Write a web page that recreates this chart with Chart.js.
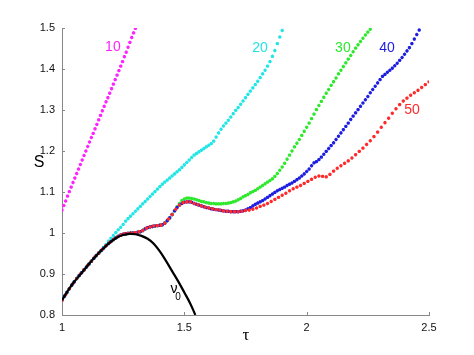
<!DOCTYPE html>
<html>
<head>
<meta charset="utf-8">
<script src="https://cdn.jsdelivr.net/npm/chart.js@4.4.1/dist/chart.umd.min.js"></script>
<style>
html,body{margin:0;padding:0;background:#fff;}
#wrap{width:474px;height:355px;}
</style>
</head>
<body>
<div id="wrap"><canvas id="c" width="474" height="355"></canvas></div>
<script>
// shared tau grid (step 0.01)
const tau = [1.00,1.01,1.02,1.03,1.04,1.05,1.06,1.07,1.08,1.09,1.10,1.11,1.12,1.13,1.14,1.15,1.16,1.17,1.18,1.19,
1.20,1.21,1.22,1.23,1.24,1.25,1.26,1.27,1.28,1.29,1.30,1.31,1.32,1.33,1.34,1.35,1.36,1.37,1.38,1.39,
1.40,1.41,1.42,1.43,1.44,1.45,1.46,1.47,1.48,1.49,1.50,1.51,1.52,1.53,1.54,1.55,1.56,1.57,1.58,1.59,
1.60,1.61,1.62,1.63,1.64,1.65,1.66,1.67,1.68,1.69,1.70,1.71,1.72,1.73,1.74,1.75,1.76,1.77,1.78,1.79,
1.80,1.81,1.82,1.83,1.84,1.85,1.86,1.87,1.88,1.89,1.90,1.91,1.92,1.93,1.94,1.95,1.96,1.97,1.98,1.99,
2.00,2.01,2.02,2.03,2.04,2.05,2.06,2.07,2.08,2.09,2.10,2.11,2.12,2.13,2.14,2.15,2.16,2.17,2.18,2.19,
2.20,2.21,2.22,2.23,2.24,2.25,2.26,2.27,2.28,2.29,2.30,2.31,2.32,2.33,2.34,2.35,2.36,2.37,2.38,2.39,
2.40,2.41,2.42,2.43,2.44,2.45,2.46,2.47,2.48,2.49,2.50];

// common trunk S(tau) for 20/30/40, tau = 1.00 .. 1.76
const trunkS = [0.836,0.846,0.855,0.864,0.873,0.881,0.889,0.896,0.903,0.910,
0.917,0.924,0.931,0.938,0.945,0.951,0.957,0.963,0.969,0.974,
0.979,0.984,0.988,0.992,0.995,0.997,0.998,0.999,1.000,1.000,
1.001,1.002,1.003,1.006,1.010,1.013,1.015,1.016,1.017,1.018,
1.019,1.020,1.024,1.030,1.037,1.045,1.054,1.062,1.068,1.072,
1.075,1.076,1.076,1.075,1.072,1.070,1.068,1.066,1.064,1.062,
1.061,1.059,1.058,1.057,1.056,1.055,1.054,1.053,1.053,1.052,
1.052,1.052,1.052,1.053,1.054,1.056,1.059];

// N = 20 after leaving trunk, tau = 1.17 .. 1.90
const tail20 = [0.965,0.972,0.980,0.987,0.994,1.001,1.008,1.014,1.021,1.029,
1.035,1.041,1.047,1.053,1.059,1.065,1.071,1.077,1.083,1.089,
1.095,1.101,1.107,1.113,1.119,1.124,1.129,1.134,1.139,1.144,
1.149,1.154,1.160,1.166,1.172,1.178,1.184,1.190,1.194,1.198,
1.202,1.206,1.210,1.214,1.218,1.224,1.234,1.244,1.253,1.261,
1.268,1.275,1.283,1.291,1.299,1.306,1.314,1.322,1.330,1.338,
1.346,1.354,1.362,1.370,1.379,1.388,1.397,1.407,1.418,1.431,
1.445,1.462,1.478,1.494];

// N = 30 after leaving trunk, tau = 1.47 .. 2.26
const tail30 = [1.064,1.072,1.079,1.083,1.085,1.085,1.084,1.083,1.081,1.079,
1.077,1.076,1.074,1.073,1.072,1.072,1.071,1.071,1.071,1.072,
1.072,1.073,1.074,1.076,1.078,1.081,1.084,1.088,1.091,1.094,
1.098,1.101,1.104,1.108,1.112,1.116,1.120,1.124,1.128,1.132,
1.138,1.145,1.153,1.161,1.170,1.180,1.190,1.200,1.210,1.219,
1.228,1.238,1.248,1.258,1.268,1.279,1.290,1.301,1.311,1.321,
1.331,1.341,1.350,1.360,1.369,1.378,1.388,1.397,1.406,1.415,
1.424,1.433,1.442,1.451,1.459,1.467,1.475,1.483,1.490,1.497];

// N = 40 after leaving trunk, tau = 1.77 .. 2.46
const tail40 = [1.062,1.066,1.070,1.073,1.076,1.079,1.083,1.087,1.091,1.095,
1.099,1.103,1.106,1.109,1.112,1.116,1.119,1.122,1.126,1.130,
1.134,1.139,1.144,1.150,1.156,1.164,1.171,1.174,1.179,1.185,
1.192,1.199,1.206,1.213,1.220,1.228,1.236,1.244,1.252,1.260,
1.268,1.277,1.285,1.293,1.301,1.309,1.317,1.325,1.333,1.342,
1.350,1.358,1.366,1.374,1.382,1.387,1.392,1.397,1.402,1.408,
1.414,1.421,1.428,1.436,1.444,1.452,1.462,1.473,1.484,1.495];

// N = 50 (own tau grid)
const tau50 = [1.000,1.015,1.030,1.045,1.060,1.075,1.090,1.105,1.120,1.135,1.150,1.165,1.180,1.195,1.210,1.225,1.240,1.255,1.270,1.285,
1.300,1.315,1.330,1.345,1.360,1.375,1.390,1.405,1.420,1.435,1.450,1.465,1.480,1.495,1.510,1.525,1.540,1.555,1.570,1.585,
1.600,1.615,1.630,1.645,1.660,1.675,1.690,1.705,1.720,1.735,1.750,1.765,1.780,1.795,1.810,1.825,1.840,1.855,1.870,1.885,
1.900,1.915,1.930,1.945,1.960,1.975,1.990,2.005,2.020,2.035,2.050,2.065,2.080,2.095,2.110,2.125,2.140,2.155,2.170,2.185,
2.200,2.215,2.230,2.245,2.260,2.275,2.290,2.305,2.320,2.335,2.350,2.365,2.380,2.395,2.410,2.425,2.440,2.455,2.470,2.485,2.500];
const S50 = [0.836,0.850,0.864,0.877,0.889,0.900,0.910,0.921,0.931,0.942,0.951,0.960,0.969,0.977,0.984,0.990,0.995,0.998,0.999,1.000,
1.001,1.003,1.006,1.012,1.015,1.017,1.018,1.019,1.024,1.034,1.045,1.058,1.068,1.074,1.076,1.076,1.072,1.069,1.066,1.063,
1.061,1.059,1.057,1.056,1.054,1.053,1.052,1.052,1.052,1.053,1.055,1.056,1.058,1.061,1.065,1.068,1.072,1.077,1.082,1.087,
1.092,1.097,1.103,1.108,1.112,1.116,1.121,1.126,1.131,1.136,1.139,1.138,1.137,1.143,1.151,1.158,1.164,1.170,1.176,1.183,
1.191,1.199,1.207,1.216,1.225,1.235,1.246,1.258,1.269,1.280,1.292,1.303,1.313,1.322,1.329,1.336,1.342,1.348,1.355,1.362,1.369];

// N = 10 (own tau grid)
const tau10 = [1.0000,1.0075,1.0150,1.0225,1.0300,1.0375,1.0450,1.0525,1.0600,1.0675,1.0750,1.0825,1.0900,1.0975,
1.1050,1.1125,1.1200,1.1275,1.1350,1.1425,1.1500,1.1575,1.1650,1.1725,1.1800,1.1875,1.1950,1.2025,1.2100,1.2175,
1.2250,1.2325,1.2400,1.2475,1.2550,1.2625,1.2700,1.2775,1.2850,1.2925,1.3000];
const S10 = [1.056,1.067,1.078,1.090,1.101,1.112,1.123,1.134,1.145,1.156,1.167,1.178,1.189,1.200,
1.211,1.222,1.233,1.243,1.254,1.265,1.276,1.287,1.298,1.309,1.320,1.330,1.341,1.352,1.363,1.374,
1.385,1.396,1.407,1.418,1.430,1.441,1.453,1.465,1.477,1.488,1.499];

// nu_0 curve
const tauNu = [1.000,1.025,1.050,1.075,1.100,1.125,1.150,1.175,1.200,1.225,1.250,1.275,1.300,1.325,1.350,1.375,1.400,1.425,1.450,1.475,1.500,1.525,1.545];
const Snu = [0.836,0.860,0.881,0.899,0.917,0.935,0.951,0.966,0.979,0.989,0.995,0.998,0.997,0.993,0.986,0.974,0.955,0.932,0.907,0.882,0.855,0.827,0.800];

const xTicks = [1, 1.5, 2, 2.5];
const yTicks = [0.8, 0.9, 1, 1.1, 1.2, 1.3, 1.4, 1.5];
const seriesLabels = ['10', '20', '30', '40', '50'];
const colors = ['#ff22ff', '#22e6e6', '#2ee82e', '#1e1ee0', '#ff2a2a'];

function pts(xs, ys) { return ys.map((v, i) => ({ x: xs[i], y: v })); }
const d20 = pts(tau, trunkS.slice(0, 17).concat(tail20));
const d30 = pts(tau, trunkS.slice(0, 47).concat(tail30));
const d40 = pts(tau, trunkS.concat(tail40));
const d50 = pts(tau50, S50);
const d10 = pts(tau10, S10);
const dNu = pts(tauNu, Snu);

function markerDs(data, color, order) {
  return { data, showLine: false, pointStyle: 'star', pointRadius: 1.7, borderWidth: 1.1,
    borderColor: color, backgroundColor: color, pointHoverRadius: 1.7, order };
}

const labelPlugin = {
  id: 'labels',
  afterDraw(chart) {
    const ctx = chart.ctx, xs = chart.scales.x, ys = chart.scales.y, ca = chart.chartArea;
    ctx.save();
    // inward tick marks
    ctx.strokeStyle = '#888'; ctx.lineWidth = 1;
    xTicks.forEach(t => { const p = Math.round(xs.getPixelForValue(t)) + 0.5;
      ctx.beginPath(); ctx.moveTo(p, ca.bottom); ctx.lineTo(p, ca.bottom - 3); ctx.stroke(); });
    yTicks.forEach(t => { const p = Math.round(ys.getPixelForValue(t)) + 0.5;
      ctx.beginPath(); ctx.moveTo(ca.left, p); ctx.lineTo(ca.left + 3, p); ctx.stroke(); });
    // series labels
    ctx.font = '14px "Liberation Sans", Arial, sans-serif';
    ctx.textAlign = 'center'; ctx.textBaseline = 'middle';
    const pos = [[1.208, 1.454], [1.809, 1.451], [2.148, 1.451], [2.328, 1.451], [2.431, 1.300]];
    seriesLabels.forEach((s, i) => { ctx.fillStyle = colors[i];
      ctx.fillText(s, xs.getPixelForValue(pos[i][0]), ys.getPixelForValue(pos[i][1])); });
    // nu_0 label
    ctx.fillStyle = '#000';
    ctx.font = '14px "Liberation Sans", Arial, sans-serif';
    const nx = xs.getPixelForValue(1.458), ny = ys.getPixelForValue(0.862);
    ctx.fillText('ν', nx, ny);
    ctx.font = '10px "Liberation Sans", Arial, sans-serif';
    ctx.fillText('0', nx + 4, ny + 8);
    // axis labels
    ctx.font = '16px "Liberation Sans", Arial, sans-serif';
    ctx.fillText('S', 39, 163);
    ctx.font = '17px "Liberation Serif", "Times New Roman", serif';
    ctx.fillText('τ', 246, 336);
    ctx.restore();
  }
};

const fmt = v => String(Math.round(v * 100) / 100);
const tickFont = { family: '"Liberation Sans", Arial, sans-serif', size: 11 };
new Chart(document.getElementById('c'), {
  type: 'scatter',
  data: { datasets: [
    { type: 'line', data: dNu, borderColor: '#000', borderWidth: 2.2, pointRadius: 0, tension: 0.4, fill: false, order: 0 },
    markerDs(d50, colors[4], 1),
    markerDs(d40, colors[3], 2),
    markerDs(d30, colors[2], 3),
    markerDs(d20, colors[1], 4),
    markerDs(d10, colors[0], 5)
  ]},
  options: {
    responsive: false, animation: false, devicePixelRatio: 1,
    layout: { padding: { left: 0, right: 45, top: 28, bottom: 0 } },
    plugins: { legend: { display: false }, tooltip: { enabled: false } },
    scales: {
      x: { type: 'linear', min: 1, max: 2.5,
        afterBuildTicks: s => { s.ticks = xTicks.map(v => ({ value: v })); },
        afterFit: s => { s.height = 40; },
        grid: { display: false, drawTicks: false },
        border: { display: true, color: '#888', width: 1 },
        ticks: { font: tickFont, color: '#111', padding: 6, maxRotation: 0, callback: fmt } },
      y: { type: 'linear', min: 0.8, max: 1.5,
        afterBuildTicks: s => { s.ticks = yTicks.map(v => ({ value: v })); },
        afterFit: s => { s.width = 62; },
        grid: { display: false, drawTicks: false },
        border: { display: true, color: '#888', width: 1 },
        ticks: { font: tickFont, color: '#111', padding: 7, callback: fmt } }
    }
  },
  plugins: [labelPlugin]
});
</script>
</body>
</html>
